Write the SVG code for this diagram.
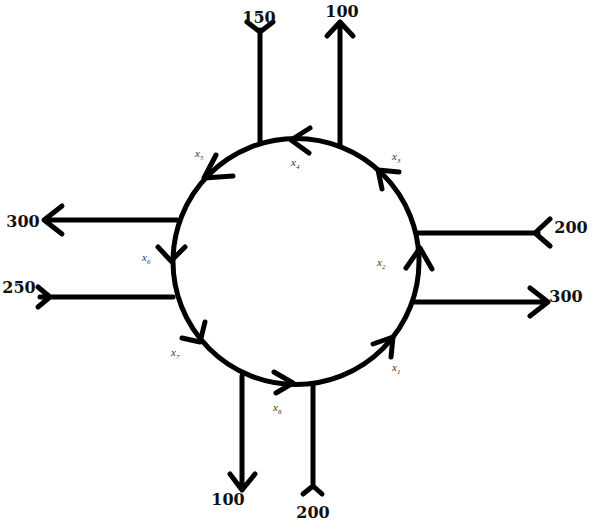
<svg xmlns="http://www.w3.org/2000/svg" width="594" height="530" viewBox="0 0 594 530">
<style>
.ln{fill:none;stroke:#000;stroke-width:5;stroke-linecap:round;stroke-linejoin:round}
.num{font-family:"DejaVu Serif","Liberation Serif",serif;font-weight:bold;font-size:16px;fill:#111;text-anchor:middle}
.var{font-family:"Liberation Serif",serif;font-style:italic;font-size:11px;fill:#333}
.sub{font-size:7px}
</style>
<rect width="594" height="530" fill="#fff"/>
<g id="loop">
<circle class="ln" cx="296" cy="261.5" r="123"/>
</g>
<g id="connectors">
<path class="ln" d="M260,30 L260,142 M247,22 L260,32 L273,22"/>
<path class="ln" d="M340,22 L340,146 M327,36 L340,22 L353,36"/>
<path class="ln" d="M45,220 L177,220 M62,206 L44,220 L62,234"/>
<path class="ln" d="M40,297 L173,297 M38,287 L50,297 L38,307"/>
<path class="ln" d="M418,233 L538,233 M550,219 L535,233 L550,246"/>
<path class="ln" d="M414,302 L546,302 M530,288 L548,302 L530,316"/>
<path class="ln" d="M242,376 L242,490 M230,474 L242,490 L255,474"/>
<path class="ln" d="M313,384 L313,487 M303,494 L313,486 L322,494"/>
</g>
<g id="flow-arrows">
<path class="ln" d="M373,344 L393,337 L391,357"/>
<path class="ln" d="M406,268 L420,248 L432,269"/>
<path class="ln" d="M399,172 L378,170 L382,189"/>
<path class="ln" d="M310,128 L291,140 L309,153"/>
<path class="ln" d="M216,155 L204,178 L233,176"/>
<path class="ln" d="M158,247 L171,261 L185,247"/>
<path class="ln" d="M182,338 L200,342 L205,322"/>
<path class="ln" d="M274,372 L293,383 L276,393"/>
</g>
<g id="labels">
<text class="num" x="259" y="23">150</text>
<text class="num" x="342" y="17">100</text>
<text class="num" x="23" y="227">300</text>
<text class="num" x="19" y="293">250</text>
<text class="num" x="571" y="233">200</text>
<text class="num" x="566" y="302">300</text>
<text class="num" x="228" y="505">100</text>
<text class="num" x="313" y="518">200</text>
</g>
<g id="vars">
<text class="var" x="392" y="371">x<tspan class="sub" dy="3">1</tspan></text>
<text class="var" x="377" y="266">x<tspan class="sub" dy="3">2</tspan></text>
<text class="var" x="392" y="160">x<tspan class="sub" dy="3">3</tspan></text>
<text class="var" x="291" y="166">x<tspan class="sub" dy="3">4</tspan></text>
<text class="var" x="195" y="157">x<tspan class="sub" dy="3">5</tspan></text>
<text class="var" x="142" y="261">x<tspan class="sub" dy="3">6</tspan></text>
<text class="var" x="171" y="356">x<tspan class="sub" dy="3">7</tspan></text>
<text class="var" x="273" y="411">x<tspan class="sub" dy="3">8</tspan></text>
</g>
</svg>
